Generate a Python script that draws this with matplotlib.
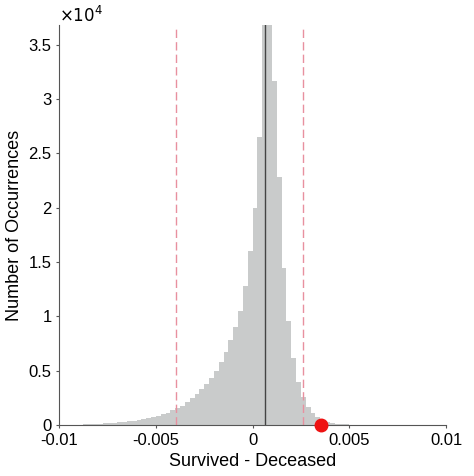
import numpy as np
import matplotlib
matplotlib.use("Agg")
import matplotlib.pyplot as plt
from matplotlib.ticker import FuncFormatter

plt.rcParams['font.family'] = ['Liberation Sans', 'DejaVu Sans']

bin_width = 0.00025
counts = [20,25,30,40,50,60,80,100,130,160,190,230,270,320,370,420,480,550,640,740,
          850,1000,1150,1350,1550,1800,2100,2450,2850,3300,3800,4350,5000,5800,6700,7800,
          9000,10500,12800,16000,20000,26500,38000,38000,31700,22800,14500,9600,6200,4000,
          2600,1700,1100,700,450,300,200,130,90,60,40,30,20,15,12,10,8,6,5,4,3,3,2,2,1,1,1,1,0,0]
dashed_lines = [-0.00395, 0.00262]
median_line = 0.00065
observed = 0.00355

lefts = -0.01 + bin_width*np.arange(len(counts))

fig = plt.figure(figsize=(4.74, 4.76), dpi=100)
ax = fig.add_axes([0.125, 0.107, 0.816, 0.84])
ax.bar(lefts, counts, width=bin_width, align='edge', color='#c9cbcb', linewidth=0)
for v in dashed_lines:
    ax.axvline(v, color='#e8909f', linestyle=(0, (6, 3)), linewidth=1)
ax.axvline(median_line, color='#444444', linewidth=1)
ax.plot([observed], [0], 'o', color='#ee1111', markersize=9, clip_on=False, zorder=5)
ax.set_xlim(-0.01, 0.01)
ax.set_ylim(0, 36800)
ax.set_xticks([-0.01, -0.005, 0, 0.005, 0.01])
ax.set_yticks(np.arange(0, 35001, 5000))
ax.xaxis.set_major_formatter(FuncFormatter(lambda v, p: ('%g' % v).replace('\u2212', '-')))
ax.yaxis.set_major_formatter(FuncFormatter(lambda v, p: '%g' % (v/1e4)))
for s in ['top', 'right']:
    ax.spines[s].set_visible(False)
for s in ['left', 'bottom']:
    ax.spines[s].set_color('#555555')
ax.tick_params(labelsize=12, direction='out', length=2, color='#555555')
ax.set_xlabel('Survived - Deceased', fontsize=13)
ax.set_ylabel('Number of Occurrences', fontsize=13)
ax.text(0.0, 1.0, r'$\times10^4$', transform=ax.transAxes, fontsize=12, va='bottom', ha='left')
fig.savefig('out.png', dpi=100)
